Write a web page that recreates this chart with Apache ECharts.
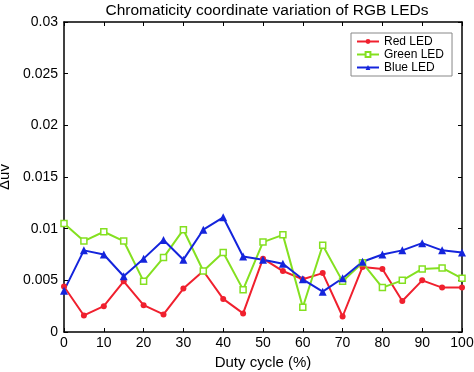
<!DOCTYPE html>
<html><head><meta charset="utf-8">
<script src="https://cdn.jsdelivr.net/npm/echarts@6/dist/echarts.min.js"></script>
<style>html,body{margin:0;padding:0;background:#fff}#c{width:474px;height:372px}</style>
</head><body><div id="c"></div>
<script>
const dutyCycle = [0,5,10,15,20,25,30,35,40,45,50,55,60,65,70,75,80,85,90,95,100];
const redLED   = [0.0044,0.0016,0.0025,0.0049,0.0026,0.0017,0.0042,0.0059,0.0032,0.0018,0.0071,0.0059,0.0051,0.0057,0.0015,0.0063,0.0061,0.0030,0.0050,0.0043,0.0043];
const greenLED = [0.0105,0.0088,0.0097,0.0088,0.0049,0.0072,0.0099,0.0059,0.0077,0.0041,0.0087,0.0094,0.0024,0.0084,0.0049,0.0067,0.0043,0.0050,0.0061,0.0062,0.0052];
const blueLED  = [0.0040,0.0079,0.0075,0.0054,0.0071,0.0089,0.0070,0.0099,0.0111,0.0073,0.0070,0.0066,0.0051,0.0039,0.0052,0.0068,0.0075,0.0079,0.0086,0.0079,0.0077];
const seriesNames = ['Red LED','Green LED','Blue LED'];
const colors = ['#f0202e','#84e020','#1424dc'];

const pairs = v => dutyCycle.map((x,i)=>[x,v[i]]);
const font = 'Liberation Sans, Arial, sans-serif';
const axisCommon = () => ({
  axisLine:{show:true,onZero:false,lineStyle:{color:'#000',width:1.5}},
  axisTick:{show:true,inside:true,length:4,lineStyle:{color:'#000',width:1}},
  splitLine:{show:false}
});
const chart = echarts.init(document.getElementById('c'),null,{renderer:'canvas'});
chart.setOption({
  animation:false,
  title:{text:'Chromaticity coordinate variation of RGB LEDs',left:262,textAlign:'center',top:-2,
    textStyle:{fontFamily:font,fontSize:15.5,fontWeight:'normal',color:'#000'}},
  grid:{left:64,right:12,top:22,bottom:40,containLabel:false,outerBoundsMode:'none'},
  legend:{
    data:seriesNames, orient:'vertical', left:351, top:33,
    backgroundColor:'#fff', borderColor:'#888', borderWidth:1, padding:[2,8,2,5],
    itemWidth:22, itemHeight:6, itemGap:0,
    textStyle:{fontFamily:font,fontSize:12,color:'#000',lineHeight:13}
  },
  xAxis:[
    Object.assign(axisCommon(),{type:'value',min:0,max:100,interval:10,position:'bottom',
      name:'Duty cycle (%)',nameLocation:'middle',nameGap:23,
      nameTextStyle:{fontFamily:font,fontSize:15,color:'#000'},
      axisLabel:{fontFamily:font,fontSize:14,color:'#000',margin:4}}),
    Object.assign(axisCommon(),{type:'value',min:0,max:100,interval:10,position:'top',
      axisLabel:{show:false}})
  ],
  yAxis:[
    Object.assign(axisCommon(),{type:'value',min:0,max:0.03,interval:0.005,position:'left',
      name:'Δuv',nameLocation:'middle',nameGap:44,
      nameTextStyle:{fontFamily:font,fontSize:15,color:'#000'},
      axisLabel:{fontFamily:font,fontSize:14,color:'#000',margin:6}}),
    Object.assign(axisCommon(),{type:'value',min:0,max:0.03,interval:0.005,position:'right',
      axisLabel:{show:false}})
  ],
  series:[
    {name:seriesNames[0],type:'line',data:pairs(redLED),symbol:'circle',symbolSize:6,
      itemStyle:{color:colors[0]},lineStyle:{color:colors[0],width:2}},
    {name:seriesNames[1],type:'line',data:pairs(greenLED),symbol:'rect',symbolSize:6,
      itemStyle:{color:'#fff',borderColor:colors[1],borderWidth:1.5},lineStyle:{color:colors[1],width:2}},
    {name:seriesNames[2],type:'line',data:pairs(blueLED),symbol:'triangle',symbolSize:8,
      itemStyle:{color:colors[2]},lineStyle:{color:colors[2],width:2}}
  ]
});
</script></body></html>
